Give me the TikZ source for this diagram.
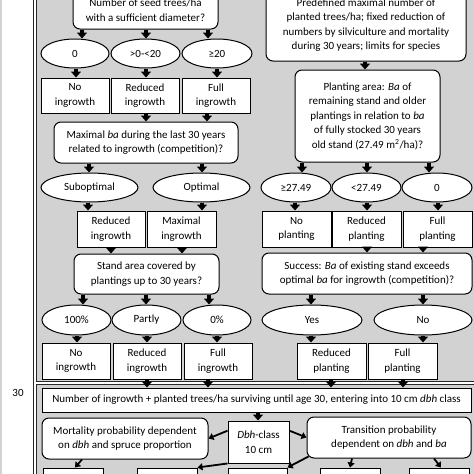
\documentclass[tikz,border=0pt]{standalone}
\usepackage{fontspec}
\setmainfont{Carlito}
\usetikzlibrary{arrows.meta,shapes.geometric}
\definecolor{panel}{RGB}{210,210,210}
\begin{document}
\begin{tikzpicture}[x=1pt,y=-1pt,
  every node/.style={font=\fontsize{11}{14.5}\selectfont, align=center, inner sep=0pt},
  wh/.style 2 args={minimum width=#1pt, minimum height=#2pt},
  rbox/.style={draw, fill=white, rounded corners=7pt, line width=1pt},
  sbox/.style={draw, fill=white, line width=1pt},
  oval/.style={draw, fill=white, ellipse, line width=1pt},
  arr/.style={line width=3.2pt, -{Triangle[width=10pt,length=6pt]}},
  darr/.style={line width=1.8pt, -{Triangle[width=7pt,length=5pt]}},
  frame/.style={line width=0.8pt, draw=black!85}
]
\useasboundingbox (0,0) rectangle (474,474);
\clip (0,0) rectangle (474,474);
\fill[white] (0,0) rectangle (474,474);
\draw[gray!35, line width=1.5pt] (1,-5) -- (1,480);
\draw[frame] (33.8,-5) -- (33.8,480);
\draw[frame, fill=panel] (36.5,-5) rectangle (480,381.5);
\draw[frame, fill=panel] (36.5,384.5) rectangle (480,480);
\node (lab) at (18,393) {30};

% left column
\node[rbox, wh={145}{38}] (q1) at (145.5,10) {Number of seed trees/ha\\with a sufficient diameter?};
\node[oval, wh={68}{29}] (e1a) at (75,53.5) {0};
\node[oval, wh={69}{29}] (e1b) at (145.5,53.5) {>0-<20};
\node[oval, wh={70}{29}] (e1c) at (217,53.5) {≥20};
\node[sbox, wh={68}{35}] (b1a) at (75,95.5) {No\\ingrowth};
\node[sbox, wh={68}{35}] (b1b) at (145,95.5) {Reduced\\ingrowth};
\node[sbox, wh={68}{35}] (b1c) at (216,95.5) {Full\\ingrowth};
\node[rbox, wh={184}{41}] (q2) at (146,142.5) {Maximal \textit{ba} during the last 30 years\\related to ingrowth (competition)?};
\node[oval, wh={97}{29}] (e2a) at (89.5,187.5) {Suboptimal};
\node[oval, wh={97}{29}] (e2b) at (201.5,187.5) {Optimal};
\node[sbox, wh={68}{36}] (b2a) at (111,229) {Reduced\\ingrowth};
\node[sbox, wh={69}{36}] (b2b) at (181.5,229) {Maximal\\ingrowth};
\node[rbox, wh={145}{40}] (q3) at (146.5,274) {Stand area covered by\\plantings up to 30 years?};
\node[oval, wh={69}{30}] (e3a) at (76.5,320) {100\%};
\node[oval, wh={69}{30}] (e3b) at (146.5,320) {Partly};
\node[oval, wh={68}{30}] (e3c) at (217,320) {0\%};
\node[sbox, wh={68}{36}] (b3a) at (76,361) {No\\ingrowth};
\node[sbox, wh={68}{36}] (b3b) at (147,361) {Reduced\\ingrowth};
\node[sbox, wh={68}{36}] (b3c) at (218,361) {Full\\ingrowth};

% right column
\node[rbox, wh={200}{72}] (r1) at (366,25) {Predefined maximal number of\\planted trees/ha; fixed reduction of\\numbers by silviculture and mortality\\during 30 years; limits for species};
\node[rbox, wh={145}{92}] (r2) at (367.5,116) {Planting area: \textit{Ba} of\\remaining stand and older\\plantings in relation to \textit{ba}\\of fully stocked 30 years\\old stand (27.49 m\textsuperscript{2}/ha)?};
\node[oval, wh={70}{29}] (r3a) at (296,187.5) {≥27.49};
\node[oval, wh={69}{29}] (r3b) at (366.5,187.5) {<27.49};
\node[oval, wh={70}{29}] (r3c) at (437,187.5) {0};
\node[sbox, wh={69}{36}] (r4a) at (296.5,229) {No\\planting};
\node[sbox, wh={69}{36}] (r4b) at (366.5,229) {Reduced\\planting};
\node[sbox, wh={69}{36}] (r4c) at (437.5,229) {Full\\planting};
\node[rbox, wh={210}{41}] (r5) at (367,273.5) {Success: \textit{Ba} of existing stand exceeds\\optimal \textit{ba} for ingrowth (competition)?};
\node[oval, wh={100}{30}] (r6a) at (312,320) {Yes};
\node[oval, wh={98}{30}] (r6b) at (423,320) {No};
\node[sbox, wh={69}{36}] (r7a) at (331.5,361) {Reduced\\planting};
\node[sbox, wh={69}{36}] (r7b) at (402.5,361) {Full\\planting};

% lower panel
\node[sbox, wh={429}{24}] (n1) at (256.5,400) {Number of ingrowth + planted trees/ha surviving until age 30, entering into 10 cm \textit{dbh} class};
\node[rbox, wh={166}{41}] (m1) at (125,438.5) {Mortality probability dependent\\on \textit{dbh} and spruce proportion};
\node[sbox, wh={61}{42}] (d1) at (258.5,442) {\textit{Dbh}-class\\10 cm};
\node[rbox, wh={164}{41}] (t1) at (389,437.5) {Transition probability\\dependent on \textit{dbh} and \textit{ba}};
\node[sbox, wh={60}{40}] (u1) at (73,488) {};
\node[sbox, wh={60}{40}] (u2) at (167,488) {};
\node[sbox, wh={59}{40}] (u3) at (257.5,488) {};
\node[sbox, wh={60}{40}] (u4) at (350,488) {};
\node[sbox, wh={60}{40}] (u5) at (439,488) {};

% vertical arrows
\foreach \s/\t/\x in {q1/e1a/82, q1/e1b/146, q1/e1c/208,
  e1a/b1a/76, e1b/b1b/146, e1c/b1c/217,
  b1b/q2/146, b1c/q2/207,
  q2/e2a/89, q2/e2b/202,
  e2a/b2a/88, e2b/b2b/202,
  b2a/q3/111, b2b/q3/182,
  q3/e3a/83, q3/e3b/146, q3/e3c/209,
  e3a/b3a/77, e3b/b3b/147, e3c/b3c/217,
  b3b/n1/147, b3c/n1/208,
  r1/r2/365,
  r2/r3a/302, r2/r3b/367, r2/r3c/429,
  r3a/r4a/295, r3b/r4b/367, r3c/r4c/438,
  r4b/r5/367, r4c/r5/423,
  r5/r6a/311, r5/r6b/423,
  r6a/r7a/311, r6b/r7b/423,
  r7a/n1/331, r7b/n1/403,
  n1/d1/258}
  \draw[arr] (\s.south -| \x,0) -- (\t.north -| \x,0);

% diagonal arrows
\draw[darr] (d1.160) -- (m1.east);
\draw[darr] (d1.20) -- (t1.west);
\draw[darr] (d1.south west) -- (u2.north east);
\draw[darr] ([xshift=-43pt]m1.south) -- ([xshift=2pt]u1.north);
\draw[darr] ([xshift=2pt,yshift=2pt]t1.south west) -- (u3.north east);
\draw[darr] ([xshift=-37pt]t1.south) -- (u4.north);
\draw[darr] ([xshift=45pt]t1.south) -- ([xshift=2pt]u5.north);
\end{tikzpicture}
\end{document}
